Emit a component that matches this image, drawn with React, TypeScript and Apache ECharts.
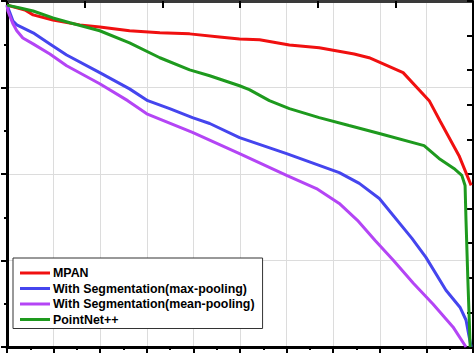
import React, { useEffect, useRef } from "react";
import * as echarts from "echarts";

const seriesNames = [
  "MPAN",
  "With Segmentation(max-pooling)",
  "With Segmentation(mean-pooling)",
  "PointNet++",
];

const mpan: [number, number][] = [
  [0, 0.988], [0.0385, 0.974], [0.056, 0.96], [0.0985, 0.945], [0.156, 0.931],
  [0.199, 0.925], [0.263, 0.914], [0.328, 0.908], [0.392, 0.905], [0.456, 0.896],
  [0.499, 0.89], [0.542, 0.888], [0.606, 0.873], [0.67, 0.865], [0.745, 0.847],
  [0.777, 0.836], [0.85, 0.793], [0.906, 0.712], [0.929, 0.654], [0.97, 0.553],
  [0.996, 0.467],
];

const maxPooling: [number, number][] = [
  [0, 0.988], [0.0064, 0.965], [0.0128, 0.942], [0.021, 0.931], [0.056, 0.908],
  [0.092, 0.876], [0.128, 0.844], [0.199, 0.793], [0.263, 0.746], [0.302, 0.712],
  [0.349, 0.689], [0.398, 0.663], [0.435, 0.646], [0.499, 0.605], [0.6, 0.559],
  [0.713, 0.504], [0.756, 0.473], [0.799, 0.429], [0.869, 0.314], [0.899, 0.259],
  [0.942, 0.164], [0.972, 0.115], [0.985, 0.078], [0.991, 0.035], [0.996, 0],
];

const meanPooling: [number, number][] = [
  [0, 0.988], [0.002, 0.971], [0.0128, 0.934], [0.021, 0.914], [0.034, 0.893],
  [0.056, 0.876], [0.092, 0.847], [0.128, 0.813], [0.199, 0.761], [0.259, 0.712],
  [0.3, 0.674], [0.398, 0.62], [0.499, 0.559], [0.6, 0.496], [0.664, 0.458],
  [0.713, 0.415], [0.752, 0.366], [0.79, 0.308], [0.829, 0.251], [0.872, 0.184],
  [0.914, 0.124], [0.957, 0.058], [0.985, 0],
];

const pointNet: [number, number][] = [
  [0, 0.988], [0.028, 0.98], [0.056, 0.971], [0.0985, 0.951], [0.135, 0.937],
  [0.199, 0.914], [0.263, 0.879], [0.328, 0.836], [0.392, 0.801], [0.435, 0.784],
  [0.499, 0.755], [0.52, 0.744], [0.563, 0.712], [0.606, 0.689], [0.67, 0.663],
  [0.734, 0.64], [0.799, 0.617], [0.895, 0.582], [0.927, 0.545], [0.959, 0.516],
  [0.976, 0.496], [0.983, 0.467], [0.985, 0.366], [0.989, 0.193], [0.994, 0],
];

const seriesData = [mpan, maxPooling, meanPooling, pointNet];
const seriesColors = ["#f01010", "#4545ee", "#b445f5", "#1e9a1e"];

export default function App() {
  const ref = useRef<HTMLDivElement>(null);
  useEffect(() => {
    if (!ref.current) return;
    const chart = echarts.init(ref.current, null, { renderer: "svg" });
    chart.setOption({
      animation: false,
      backgroundColor: "#ffffff",
      grid: { left: 7, right: 1, top: 1, bottom: 9, containLabel: false },
      legend: {
        orient: "vertical",
        left: 13,
        top: 258,
        data: seriesNames,
        icon: "rect",
        itemWidth: 30,
        itemHeight: 3,
        itemGap: 1.5,
        backgroundColor: "#ffffff",
        borderColor: "#333333",
        borderWidth: 1,
        padding: [8, 8, 2, 7],
        textStyle: {
          fontFamily: "Liberation Sans, Arial, sans-serif",
          fontWeight: "bold",
          fontSize: 12.4,
          color: "#000000",
          lineHeight: 14,
          padding: [0, 0, 0, -2],
        },
      },
      xAxis: [
        {
          type: "value",
          position: "bottom",
          min: 0,
          max: 1,
          interval: 0.1,
          axisLabel: { show: false },
          axisLine: { show: true, onZero: false, lineStyle: { color: "#000", width: 3 } },
          axisTick: { show: true, inside: false, length: 6, lineStyle: { color: "#000", width: 2 } },
          minorTick: { show: true, splitNumber: 2, length: 3, lineStyle: { color: "#000", width: 2 } },
          splitLine: { show: true, lineStyle: { color: "#dcdcdc", width: 1 } },
        },
        {
          type: "value",
          position: "top",
          min: 0,
          max: 1,
          interval: 1 / 6,
          axisLabel: { show: false },
          axisLine: { show: true, onZero: false, lineStyle: { color: "#3a3a3a", width: 3 } },
          axisTick: { show: true, inside: true, length: 7, lineStyle: { color: "#000", width: 2 } },
          splitLine: { show: false },
        },
      ],
      yAxis: [
        {
          type: "value",
          position: "left",
          min: 0,
          max: 1,
          interval: 0.25,
          axisLabel: { show: false },
          axisLine: { show: true, onZero: false, lineStyle: { color: "#000", width: 3 } },
          axisTick: { show: true, inside: false, length: 6, lineStyle: { color: "#000", width: 2 } },
          minorTick: { show: true, splitNumber: 2, length: 3, lineStyle: { color: "#000", width: 2 } },
          splitLine: { show: true, lineStyle: { color: "#dcdcdc", width: 1 } },
        },
        {
          type: "value",
          position: "right",
          min: 0,
          max: 1,
          interval: 0.1,
          axisLabel: { show: false },
          axisLine: { show: true, onZero: false, lineStyle: { color: "#000", width: 3 } },
          axisTick: { show: true, inside: true, length: 6, lineStyle: { color: "#000", width: 2 } },
          splitLine: { show: false },
        },
      ],
      series: seriesNames.map((name, i) => ({
        name,
        type: "line",
        xAxisIndex: 0,
        yAxisIndex: 0,
        data: seriesData[i],
        symbol: "none",
        color: seriesColors[i],
        lineStyle: { color: seriesColors[i], width: 3 },
      })),
    });
    return () => chart.dispose();
  }, []);
  return (
    <div
      ref={ref}
      style={{ position: "absolute", left: 0, top: 0, width: 474, height: 356 }}
    />
  );
}
